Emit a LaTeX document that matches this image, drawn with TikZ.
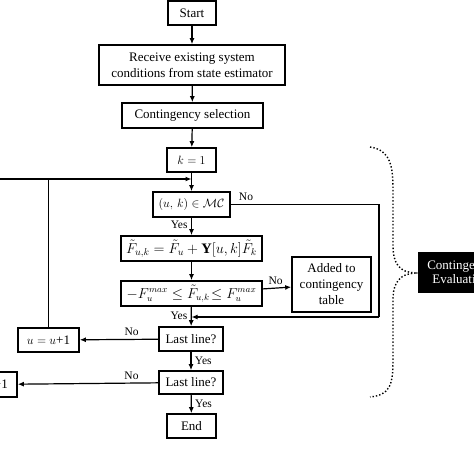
\documentclass[tikz,border=0pt]{standalone}
\usepackage{fontspec}
\setmainfont{Liberation Serif}
\usetikzlibrary{arrows.meta}
\begin{document}
\begin{tikzpicture}[x=1pt, y=-1pt,
    box/.style={draw, line width=1.6pt, align=center, inner sep=0pt, font=\fontsize{13}{16}\selectfont},
    mathbox/.style={box, font=\fontsize{14.5}{16}\selectfont},
    line/.style={line width=1.2pt},
    arr/.style={line width=1.2pt, -{Latex[length=6pt,width=5pt]}},
    lbl/.style={font=\fontsize{11.5}{12}\selectfont}]

    \useasboundingbox (0,0) rectangle (474,474);
    \clip (0,0) rectangle (474,474);

    % Main column
    \node[box, minimum width=48pt, minimum height=24pt] (start) at (192,13) {Start};
    \node[box, minimum width=186pt, minimum height=40pt] (receive) at (192,65) {Receive existing system\\conditions from state estimator};
    \node[box, minimum width=141pt, minimum height=25pt] (select) at (192.5,115.5) {Contingency selection};
    \node[box, minimum width=49pt, minimum height=24pt] (kone) at (191.5,160) {$k = 1$};
    \node[box, minimum width=77pt, minimum height=25pt] (member) at (191.5,204.5) {$(u,\, k) \in \mathcal{MC}$};
    \node[mathbox, minimum width=141pt, minimum height=25pt] (flow) at (191.5,248.5) {$\tilde F_{u,k} = \tilde F_u + \mathbf{Y}[u,k]\tilde F_k$};
    \node[box, minimum width=141pt, minimum height=25pt, font=\fontsize{13.5}{16}\selectfont] (limit) at (191.5,293.5) {$-F_u^{max} \le \tilde F_{u,k}\! \le F_u^{max}$};
    \node[box, minimum width=79pt, minimum height=55pt] (added) at (331.5,284.5) {Added to\\contingency\\table};
    \node[box, minimum width=64pt, minimum height=24pt] (lastu) at (191,339) {Last line?};
    \node[box, minimum width=61pt, minimum height=24pt] (uinc) at (48.5,340) {$u = u$+1};
    \node[box, minimum width=64pt, minimum height=23pt] (lastk) at (191,382.5) {Last line?};
    \node[box, minimum width=61pt, minimum height=25pt] (kinc) at (-13.5,384.5) {$k = k$+1};
    \node[box, minimum width=49pt, minimum height=24pt] (end) at (191.5,426) {End};

    % Evaluation label
    \node[box, fill=black, text=white, minimum width=83pt, minimum height=39pt,
          font=\fontsize{13}{14}\selectfont] (eval) at (460.5,272.5) {Contingency\\Evaluation};

    % Joints
    \coordinate (loop) at (191.5,179);
    \coordinate (merge) at (191.5,317);

    % Connectors
    \draw[arr] (start) -- (receive);
    \draw[arr] (receive) -- (select);
    \draw[arr] (select) -- (kone);
    \draw[arr] (kone) -- (member);
    \draw[arr] (member) -- node[lbl, left, pos=0.4] {Yes} (flow);
    \draw[arr] (flow) -- (limit);
    \draw[arr] (limit) -- node[lbl, left, pos=0.45] {Yes} (lastu);
    \draw[arr] (lastu) -- node[lbl, right, pos=0.5] {Yes} (lastk);
    \draw[arr] (lastk) -- node[lbl, right, pos=0.5] {Yes} (end);

    \draw[line] (member.east) -- (379,204.5) -- (379,317);
    \draw[arr] (379,317) -- (merge);
    \node[lbl] at (246,197) {No};

    \draw[arr] (limit) -- node[lbl, above, pos=0.45] {No} (added);

    \draw[arr] (lastu) -- node[lbl, above, pos=0.34] {No} (uinc);
    \draw[line] (uinc.north) -- (48.5,179);

    \draw[arr] (lastk) -- node[lbl, above, pos=0.19] {No} (kinc);
    \draw[arr] (kinc.north) |- (loop);

    % Brace
    \draw[line width=1.4pt, dotted] (370,147) .. controls (390,150) and (393,165) .. (393,190)
        -- (393,245) .. controls (393,265) and (400,272) .. (415,273)
        .. controls (400,274) and (393,282) .. (393,300)
        -- (393,360) .. controls (393,385) and (390,395) .. (370,397);

\end{tikzpicture}
\end{document}
